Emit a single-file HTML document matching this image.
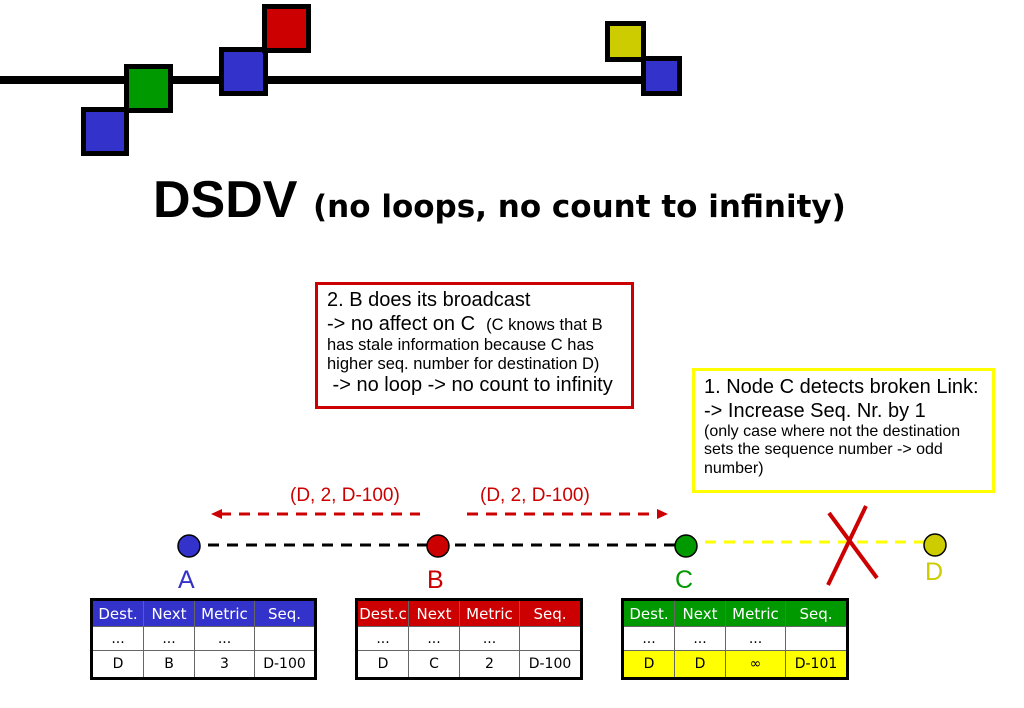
<!DOCTYPE html>
<html><head><meta charset="utf-8"><style>
body{margin:0;width:1024px;height:708px;background:#fff;position:relative;overflow:hidden;font-family:"Liberation Sans",sans-serif}
.b{position:absolute;box-sizing:border-box;border:5px solid #000}
.t{position:absolute;font-weight:bold;white-space:nowrap}
.box{position:absolute;box-sizing:border-box;background:#fff;padding:3px 9px;white-space:nowrap;color:#000}
table{position:absolute;border-collapse:collapse;border:3px solid #000;font-family:"DejaVu Sans",sans-serif;font-size:14px;table-layout:fixed}
td{border:1px solid #666;text-align:center;padding:0;height:23px}
tr.h td{color:#fff;height:25px;font-size:15px}
.lbl{position:absolute;font-size:24px}
</style></head><body>
<div style="position:absolute;left:0;top:76px;width:645px;height:8px;background:#000"></div>
<div class="b" style="left:81px;top:107px;width:48px;height:49px;background:#3333cc"></div>
<div class="b" style="left:124px;top:64px;width:49px;height:49px;background:#009900"></div>
<div class="b" style="left:219px;top:47px;width:49px;height:49px;background:#3333cc"></div>
<div class="b" style="left:262px;top:4px;width:49px;height:49px;background:#cc0000"></div>
<div class="b" style="left:605px;top:21px;width:41px;height:41px;background:#cccc00"></div>
<div class="b" style="left:641px;top:56px;width:41px;height:40px;background:#3333cc"></div>

<div class="t" style="left:153px;top:170px;font-size:52px">DSDV</div>
<div class="t" style="left:313px;top:189px;font-size:31px;font-family:'DejaVu Sans',sans-serif">(no loops, no count to infinity)</div>

<div class="box" style="left:315px;top:282px;width:319px;height:127px;border:3px solid #cc0000;line-height:1.1">
<div style="font-size:20px;margin-top:1px">2. B does its broadcast</div>
<div style="font-size:20px;margin-top:2px">-&gt; no affect on C &nbsp;<span style="font-size:16.5px">(C knows that B</span></div>
<div style="font-size:16.5px;margin-top:1px">has stale information because C has</div>
<div style="font-size:16.5px;margin-top:1px">higher seq. number for destination D)</div>
<div style="font-size:20px;margin-top:1px">&nbsp;-&gt; no loop -&gt; no count to infinity</div>
</div>

<div class="box" style="left:692px;top:368px;width:303px;height:125px;border:3px solid #ffff00;line-height:1.15">
<div style="font-size:20px;margin-top:2px">1. Node C detects broken Link:</div>
<div style="font-size:20px;margin-top:1px">-&gt; Increase Seq. Nr. by 1</div>
<div style="font-size:16px">(only case where not the destination</div>
<div style="font-size:16px">sets the sequence number -&gt; odd</div>
<div style="font-size:16px">number)</div>
</div>

<div style="position:absolute;left:290px;top:485px;color:#cc0000;font-size:19px">(D, 2, D-100)</div>
<div style="position:absolute;left:480px;top:485px;color:#cc0000;font-size:19px">(D, 2, D-100)</div>

<svg style="position:absolute;left:0;top:0" width="1024" height="708">
<line x1="220" y1="514" x2="420" y2="514" stroke="#cc0000" stroke-width="3" stroke-dasharray="11,8"/>
<polygon points="211,514 222,509 222,519" fill="#cc0000"/>
<line x1="467" y1="514" x2="660" y2="514" stroke="#cc0000" stroke-width="3" stroke-dasharray="11,8"/>
<polygon points="668,514 657,509 657,519" fill="#cc0000"/>
<line x1="189" y1="545" x2="686" y2="545" stroke="#000" stroke-width="3" stroke-dasharray="11,8"/>
<line x1="686" y1="542" x2="935" y2="542" stroke="#ffff00" stroke-width="3" stroke-dasharray="11,8"/>
<line x1="828" y1="585" x2="866" y2="506" stroke="#cc0000" stroke-width="4"/>
<line x1="829" y1="513" x2="877" y2="578" stroke="#cc0000" stroke-width="4"/>
<circle cx="189" cy="546" r="11" fill="#3333cc" stroke="#000" stroke-width="1.5"/>
<circle cx="438" cy="546" r="11" fill="#cc0000" stroke="#000" stroke-width="1.5"/>
<circle cx="686" cy="546" r="11" fill="#009900" stroke="#000" stroke-width="1.5"/>
<circle cx="935" cy="545" r="11" fill="#cccc00" stroke="#000" stroke-width="1.5"/>
</svg>
<div class="lbl" style="left:178px;top:566px;color:#3333cc;font-size:25px">A</div>
<div class="lbl" style="left:427px;top:566px;color:#cc0000;font-size:25px">B</div>
<div class="lbl" style="left:675px;top:566px;color:#009900;font-size:25px">C</div>
<div class="lbl" style="left:925px;top:558px;color:#cccc00;font-size:25px">D</div>

<table style="left:90px;top:598px;width:226px">
<colgroup><col style="width:52px"><col style="width:51px"><col style="width:60px"><col style="width:61px"></colgroup>
<tr class="h" style="background:#3333cc"><td>Dest.</td><td>Next</td><td>Metric</td><td>Seq.</td></tr>
<tr><td>...</td><td>...</td><td>...</td><td></td></tr>
<tr><td style="height:26px">D</td><td>B</td><td>3</td><td>D-100</td></tr></table>

<table style="left:355px;top:598px;width:227px">
<colgroup><col style="width:52px"><col style="width:51px"><col style="width:60px"><col style="width:62px"></colgroup>
<tr class="h" style="background:#cc0000"><td>Dest.c</td><td>Next</td><td>Metric</td><td>Seq.</td></tr>
<tr><td>...</td><td>...</td><td>...</td><td></td></tr>
<tr><td style="height:26px">D</td><td>C</td><td>2</td><td>D-100</td></tr></table>

<table style="left:621px;top:598px;width:227px">
<colgroup><col style="width:52px"><col style="width:51px"><col style="width:60px"><col style="width:62px"></colgroup>
<tr class="h" style="background:#009900"><td>Dest.</td><td>Next</td><td>Metric</td><td>Seq.</td></tr>
<tr><td>...</td><td>...</td><td>...</td><td></td></tr>
<tr style="background:#ffff00"><td style="height:26px">D</td><td>D</td><td>∞</td><td>D-101</td></tr></table>
</body></html>
